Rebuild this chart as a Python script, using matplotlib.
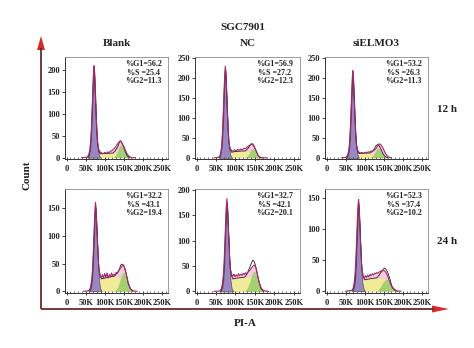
import numpy as np
import matplotlib
matplotlib.use("Agg")
import matplotlib.pyplot as plt

plt.rcParams['font.family'] = ['Liberation Serif', 'DejaVu Serif']
plt.rcParams['font.weight'] = 'bold'

conditions = ["Blank", "NC", "siELMO3"]
timepoints = ["12 h", "24 h"]

# panels are row-major: 12 h (Blank, NC, siELMO3), then 24 h
pct_g1 = ["56.2", "56.9", "53.2", "32.2", "32.7", "52.3"]
pct_s = ["25.4", "27.2", "26.3", "43.1", "42.1", "37.4"]
pct_g2 = ["11.3", "12.3", "11.3", "19.4", "20.1", "10.2"]
y_top = [230, 252, 252, 184, 202, 165]

# measured PI-A histograms (x in K, counts)
hist_x = [
    [40, 54, 58, 61, 63, 65, 67, 69, 70.5, 72, 73.5, 75, 77, 79, 81, 84, 88, 92, 96, 100, 104, 108, 112, 116, 120, 124, 128, 132, 136, 140, 143, 146, 150, 154, 158, 162, 166, 170, 180],
    [45, 56, 60, 63, 65, 67, 69, 71, 72.5, 74, 75.5, 77, 79, 81, 83, 86, 90, 94, 98, 102, 106, 110, 114, 118, 122, 126, 130, 134, 138, 142, 146, 150, 154, 158, 162, 166, 172, 180],
    [40, 51, 55, 58, 60, 62, 64, 66, 67.5, 69, 70.5, 72, 74, 76, 78, 81, 85, 89, 93, 97, 101, 105, 109, 113, 117, 121, 125, 129, 132, 135, 138, 142, 146, 150, 154, 158, 162, 170],
    [45, 58, 62, 65, 67, 69, 71, 73, 74.5, 76, 77.5, 79, 81, 83, 85, 88, 91, 94, 97, 100, 103, 106, 109, 112, 115, 118, 121, 124, 127, 130, 133, 136, 140, 144, 148, 151, 154, 158, 162, 166, 170, 175, 185],
    [45, 60, 64, 67, 69, 71, 73, 75, 76.5, 78, 79.5, 81, 83, 85, 87, 90, 93, 96, 99, 102, 105, 108, 111, 114, 117, 120, 123, 126, 129, 132, 135, 138, 141, 144, 148, 151, 154, 158, 162, 166, 170, 176, 185],
    [50, 66, 70, 73, 75, 77, 79, 81, 82.5, 84, 85.5, 87, 89, 91, 93, 96, 99, 102, 105, 108, 111, 114, 117, 120, 123, 126, 129, 132, 135, 138, 141, 144, 148, 152, 156, 160, 164, 168, 172, 176, 180, 186, 195],
]
hist_y = [
    [0, 1, 6, 18, 34, 62, 106, 156, 190, 210, 192, 160, 112, 70, 40, 20, 13, 11, 9, 12, 10, 13, 12, 15, 17, 20, 24, 29, 34, 38, 37, 32, 26, 18, 10, 5, 2, 0, 0],
    [0, 1, 5, 16, 36, 70, 118, 172, 208, 229, 210, 172, 120, 72, 40, 24, 18, 16, 20, 17, 21, 19, 22, 20, 24, 23, 27, 30, 32, 34, 31, 24, 15, 7, 2, 0, 0, 0],
    [0, 1, 6, 17, 34, 64, 110, 162, 198, 218, 200, 164, 114, 66, 36, 20, 14, 12, 13, 11, 14, 12, 15, 14, 17, 16, 19, 22, 27, 32, 35, 33, 28, 20, 12, 6, 2, 0],
    [0, 1, 5, 16, 28, 50, 84, 122, 146, 160, 146, 122, 90, 60, 40, 29, 25, 30, 24, 32, 25, 33, 24, 30, 26, 33, 27, 31, 29, 34, 32, 36, 40, 44, 47, 45, 38, 27, 15, 7, 3, 1, 0],
    [0, 1, 6, 18, 34, 60, 100, 142, 168, 183, 168, 140, 100, 66, 44, 34, 30, 34, 29, 33, 30, 35, 31, 34, 32, 36, 33, 37, 35, 38, 40, 43, 46, 49, 52, 50, 42, 28, 16, 7, 3, 1, 0],
    [0, 1, 5, 16, 30, 54, 84, 118, 138, 148, 136, 112, 80, 52, 34, 24, 21, 25, 22, 26, 23, 27, 25, 28, 26, 29, 28, 30, 29, 31, 32, 33, 33, 33, 30, 25, 18, 11, 6, 3, 1, 0, 0],
]

# fitted G1 / S / G2 components
g1_x = [
    [56, 60, 63, 65, 67, 69, 70.5, 72, 73.5, 75, 77, 79, 81, 84, 88],
    [58, 62, 65, 67, 69, 71, 72.5, 74, 75.5, 77, 79, 81, 83, 86, 90],
    [53, 57, 60, 62, 64, 66, 67.5, 69, 70.5, 72, 74, 76, 78, 81, 85],
    [60, 64, 67, 69, 71, 73, 74.5, 76, 77.5, 79, 81, 83, 85, 88, 92],
    [62, 66, 69, 71, 73, 75, 76.5, 78, 79.5, 81, 83, 85, 87, 90, 94],
    [68, 72, 75, 77, 79, 81, 82.5, 84, 85.5, 87, 89, 91, 93, 96, 100],
]
g1_y = [
    [0, 8, 27, 57, 102, 152, 185, 205, 185, 152, 102, 57, 27, 8, 0],
    [0, 9, 29, 62, 110, 164, 200, 222, 200, 164, 110, 62, 29, 9, 0],
    [0, 8, 27, 58, 104, 154, 187, 208, 187, 154, 104, 58, 27, 8, 0],
    [0, 6, 20, 42, 76, 112, 137, 152, 137, 112, 76, 42, 20, 6, 0],
    [0, 7, 23, 49, 88, 130, 158, 176, 158, 130, 88, 49, 23, 7, 0],
    [0, 6, 18, 40, 71, 105, 128, 142, 128, 105, 71, 40, 18, 6, 0],
]
s_x = [
    [72, 80, 90, 110, 130, 140, 150, 158],
    [74, 80, 95, 115, 130, 140, 150, 160],
    [69, 75, 90, 105, 120, 130, 140, 150],
    [76, 82, 95, 115, 130, 142, 152, 162],
    [78, 84, 100, 120, 135, 145, 155, 165],
    [84, 90, 105, 125, 140, 152, 162, 172],
]
s_y = [
    [0, 8, 9, 10, 11, 10, 5, 0],
    [0, 12, 15, 17, 17, 15, 7, 0],
    [0, 9, 11, 12, 12, 11, 6, 0],
    [0, 20, 23, 26, 28, 22, 10, 0],
    [0, 22, 26, 28, 29, 24, 10, 0],
    [0, 17, 19, 21, 22, 20, 10, 0],
]
g2_x = [
    [122, 128, 134, 138, 141, 144, 148, 154, 160, 166],
    [125, 131, 136, 140, 144, 148, 153, 158, 165, 170],
    [114, 120, 126, 130, 134, 138, 142, 148, 154, 160],
    [126, 132, 138, 143, 147, 151, 156, 161, 167, 174],
    [124, 130, 136, 141, 145, 149, 154, 159, 165, 172],
    [132, 138, 144, 150, 155, 160, 165, 171, 178, 186],
]
g2_y = [
    [0, 5, 14, 24, 29, 28, 22, 11, 3, 0],
    [0, 5, 13, 20, 23, 21, 13, 5, 1, 0],
    [0, 4, 12, 20, 24, 23, 18, 9, 3, 0],
    [0, 5, 15, 27, 33, 34, 27, 15, 5, 0],
    [0, 6, 17, 30, 38, 40, 32, 18, 6, 0],
    [0, 4, 10, 16, 19, 19, 15, 8, 3, 0],
]

W, H = 474, 348
fig = plt.figure(figsize=(W / 100, H / 100), dpi=100)

# frame with arrows, in pixel coordinates
bg = fig.add_axes([0, 0, 1, 1])
bg.set_xlim(0, W)
bg.set_ylim(H, 0)
bg.axis("off")
bg.plot([41, 41], [309, 48], color="#6b2a2a", lw=1.3, solid_capstyle="butt")
bg.plot([41, 434], [309, 309], color="#6b2a2a", lw=1.3, solid_capstyle="butt")
bg.fill([41, 37, 45], [36, 50, 50], color="#d42c2c", lw=0)
bg.fill([449, 432, 432], [309, 305.5, 312.5], color="#d42c2c", lw=0)

col_left = [65, 195, 325]
col_w = [103, 105, 103]
row_top = [57, 189]
row_h = [102, 104]

for i in range(6):
    r, c = divmod(i, 3)
    ax = fig.add_axes([col_left[c] / W, 1 - (row_top[r] + row_h[r]) / H,
                       col_w[c] / W, row_h[r] / H])

    hx = np.array(hist_x[i])
    hy = np.array(hist_y[i])
    grid = np.union1d(np.union1d(g1_x[i], s_x[i]), g2_x[i])
    fit = (np.interp(grid, g1_x[i], g1_y[i], left=0, right=0)
           + np.interp(grid, s_x[i], s_y[i], left=0, right=0)
           + np.interp(grid, g2_x[i], g2_y[i], left=0, right=0))

    ax.fill_between(hx, 0, hy, color="#f6c9dc", lw=0)
    ax.fill_between(s_x[i], 0, s_y[i], color="#f1ea98", lw=0)
    ax.fill_between(g1_x[i], 0, g1_y[i], color="#9a86c4", edgecolor="#555555", lw=0.5)
    ax.fill_between(g2_x[i], 0, g2_y[i], color="#9ccf6c", alpha=0.9, lw=0)
    ax.plot(grid, fit, color="#222222", lw=0.6)
    ax.plot(hx, hy, color="#a3286a", lw=0.8)

    ax.set_xlim(-4, 266)
    ax.set_ylim(-3, y_top[i])
    ax.set_xticks([0, 50, 100, 150, 200, 250])
    ax.set_xticklabels(["0", "50K", "100K", "150K", "200K", "250K"])
    ax.set_xticks(np.arange(0, 261, 10), minor=True)
    ax.set_yticks(np.arange(0, y_top[i] + 1, 50))
    ax.tick_params(axis="x", which="major", direction="inout", length=3, width=0.6,
                   labelsize=6, pad=3, colors="#222222")
    ax.tick_params(axis="x", which="minor", direction="in", length=1.5, width=0.5,
                   color="#444444")
    ax.tick_params(axis="y", which="major", direction="out", length=2, width=0.6,
                   labelsize=6, pad=1.5, colors="#222222")
    for lab in ax.get_xticklabels() + ax.get_yticklabels():
        lab.set_fontweight("bold")
    for side in ("left", "bottom"):
        ax.spines[side].set_color("#333333")
        ax.spines[side].set_linewidth(0.7)
    for side in ("top", "right"):
        ax.spines[side].set_color("#8a8a8a")
        ax.spines[side].set_linewidth(0.6)

    ax.text(0.76, 0.97, f"%G1={pct_g1[i]}\n%S ={pct_s[i]}\n%G2={pct_g2[i]}",
            transform=ax.transAxes, ha="center", va="top", fontsize=5.8,
            linespacing=1.1, color="#222222", fontweight="bold")

fig.text(243 / W, 1 - 27 / H, "SGC7901", ha="center", va="center", fontsize=8, fontweight="bold", color="#222222")
for c, name in enumerate(conditions):
    fig.text((col_left[c] + col_w[c] / 2) / W, 1 - 44 / H, name, ha="center", va="center",
             fontsize=8, fontweight="bold", color="#222222")
for r, name in enumerate(timepoints):
    fig.text(447 / W, 1 - (row_top[r] + 53) / H, name, ha="center", va="center",
             fontsize=8, fontweight="bold", color="#222222")
fig.text(27 / W, 1 - 175 / H, "Count", rotation=90, ha="center", va="center",
         fontsize=8, fontweight="bold", color="#222222")
fig.text(245 / W, 1 - 323 / H, "PI-A", ha="center", va="center",
         fontsize=8, fontweight="bold", color="#222222")

fig.savefig("out.png", dpi=100)
